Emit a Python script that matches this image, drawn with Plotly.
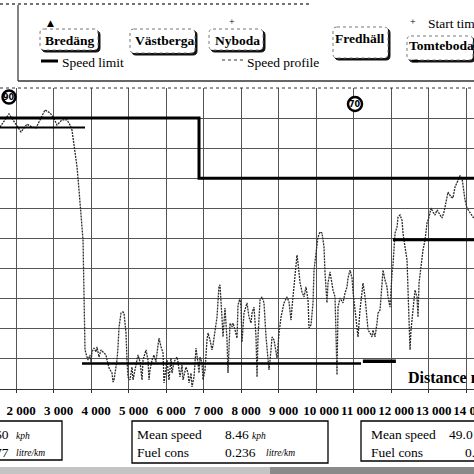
import plotly.graph_objects as go

# ---------------- data ----------------
dist_a = [1573, 1813, 1973, 2133, 2293, 2427, 2533, 2640, 2773, 2907, 2987, 3093, 3227, 3360, 3440,
          3493, 3547, 3627, 3680, 3733, 3787, 3800, 3813, 3827, 3840]
speed_a = [87.0, 91.4, 88.4, 85.4, 88.0, 87.0, 86.7, 89.4, 92.7, 91.7, 90.4, 87.7, 89.4, 89.4, 87.7,
           86.0, 80.4, 73.8, 66.1, 58.5, 49.5, 40.5, 29.6, 20.6, 13.0]

dist_b = [3893, 3920, 3973, 4000, 4027, 4080, 4133, 4160, 4213, 4267,
          4320, 4400, 4427, 4480, 4560, 4587, 4613, 4667, 4693, 4720,
          4747, 4800, 4853, 4880, 4933, 4960, 4987, 5040, 5093, 5120,
          5173, 5227, 5253, 5307, 5360, 5387, 5467, 5520, 5547, 5573,
          5627, 5680, 5733, 5787, 5813, 5867, 5920, 5947, 6000, 6027,
          6080, 6133, 6160, 6213, 6293, 6320, 6373, 6427, 6453, 6533,
          6587, 6613, 6667, 6693, 6747, 6773, 6800, 6853, 6880, 6907,
          6960, 6987]
speed_b = [10.6, 9.6, 11.3, 9.0, 12.3, 13.6, 12.3, 14.0, 10.6, 13.0,
           12.3, 11.3, 9.6, 7.0, 5.3, 2.3, 3.0, 7.0, 9.6, 14.0,
           20.6, 25.2, 25.6, 25.2, 18.6, 9.6, 4.0, 3.0, 7.3, 3.0,
           6.3, 10.3, 11.3, 9.0, 3.0, 9.6, 13.0, 9.6, 3.0, 6.3,
           9.6, 11.3, 9.0, 14.6, 16.9, 14.0, 12.0, 2.0, 6.3, 9.6,
           3.0, 10.3, 5.3, 9.0, 10.6, 9.0, 4.0, 8.0, 3.0, 7.3,
           5.3, 2.0, 5.3, 0.7, 4.0, 8.6, 13.6, 8.6, 5.3, 10.6,
           8.6, 3.0]

dist_c = [7040, 7093, 7120, 7173, 7227, 7253, 7307, 7360, 7413, 7440, 7493,
          7520, 7573, 7627, 7653, 7707, 7760, 7787, 7840, 7893, 7920, 7973]
speed_c = [6.3, 16.3, 18.6, 16.3, 13.0, 14.6, 19.6, 23.9, 34.2, 34.6, 23.6,
           17.3, 26.9, 16.3, 5.3, 21.9, 20.6, 21.9, 19.6, 16.9, 27.9, 30.2]

dist_d = [8000, 8027, 8080, 8160, 8213, 8267, 8293, 8347, 8400, 8427,
          8453, 8507, 8560, 8613, 8667, 8693, 8747, 8800, 8827, 8880,
          8933, 8960, 9013, 9067, 9147, 9227, 9280, 9333, 9360, 9440,
          9493, 9520, 9573, 9627, 9680, 9733, 9787, 9813, 9867, 9920,
          9947, 10000, 10053, 10107, 10160, 10213, 10240, 10293, 10320, 10373]
speed_d = [27.2, 15.6, 25.2, 28.6, 23.9, 21.9, 25.2, 27.2, 17.3, 4.0,
           17.3, 29.6, 30.6, 28.6, 17.3, 14.0, 6.3, 13.0, 17.3, 16.3,
           13.0, 10.3, 18.6, 23.9, 28.6, 30.6, 28.9, 22.9, 27.2, 38.5,
           44.5, 41.9, 35.5, 32.2, 30.6, 33.9, 29.6, 20.3, 21.3, 28.6,
           39.5, 45.2, 50.5, 52.2, 51.8, 47.2, 38.5, 28.6, 35.2, 38.9]

dist_e = [10453, 10507, 10560, 10587, 10640, 10720, 10773, 10827, 10853, 10907,
          10960, 10987, 11040, 11093, 11120, 11173, 11227, 11253, 11307, 11360,
          11387, 11440, 11493, 11520, 11573, 11627, 11653, 11707, 11760, 11787,
          11840, 11893, 11920, 11973, 12027, 12053, 12107, 12160, 12187, 12240,
          12293, 12320, 12373, 12427, 12453, 12480, 12507, 12533, 12587, 12613,
          12640, 12693, 12720, 12747, 12800, 12853, 12907, 12960, 13013, 13067,
          13120, 13173, 13227, 13280, 13360, 13413, 13467, 13520, 13600, 13653,
          13707, 13787, 13840, 13893, 13920, 13973, 14027, 14107, 14187, 14240]
speed_e = [32.9, 30.6, 4.7, 27.2, 30.2, 28.6, 31.9, 33.9, 36.9, 39.5,
           36.9, 32.2, 26.2, 19.6, 17.3, 26.2, 32.9, 35.2, 30.6, 21.9,
           19.6, 18.6, 17.3, 19.6, 17.3, 21.9, 25.2, 26.2, 33.9, 39.5,
           36.2, 33.9, 30.6, 27.2, 38.5, 41.2, 51.8, 53.8, 57.1, 57.8,
           56.1, 51.8, 47.2, 42.9, 32.9, 21.9, 13.0, 19.6, 27.2, 29.6,
           32.9, 30.6, 23.9, 35.2, 41.9, 46.2, 49.5, 55.1, 57.1, 60.1,
           58.8, 57.8, 59.5, 58.5, 56.8, 58.8, 61.8, 65.4, 63.8, 63.5,
           67.1, 69.4, 70.8, 70.1, 67.1, 62.8, 60.1, 58.5, 57.1, 56.8]

limit_dist = [1573, 6880, 6880, 14240]
limit_speed = [90, 90, 70, 70]

mean_start = [1573, 3760, 11250, 12050]
mean_end = [3840, 11200, 12130, 14240]
mean_speed = [86.9, 8.46, 9.2, 49.6]

station_dist = [3920, 6800, 7733, 11867, 13520]
station_names = ["Bredäng", "Västberga", "Nyboda", "Fredhäll", "Tomteboda"]

tick_vals = [2000, 3000, 4000, 5000, 6000, 7000, 8000, 9000, 10000, 11000, 12000, 13000, 14000]
tick_text = ["2 000", "3 000", "4 000", "5 000", "6 000", "7 000", "8 000", "9 000",
             "10 000", "11 000", "12 000", "13 000", "14 000"]

profile_dist = dist_a + dist_b + dist_c + dist_d + dist_e
profile_speed = speed_a + speed_b + speed_c + speed_d + speed_e

# ---------------- layout helpers ----------------
W, H = 474, 474
TOP, BOT = 88, 389
SERIF = "Liberation Serif"


def PX(px):
    return px / W


def PY(py):
    return (BOT - py) / (BOT - TOP)


fig = go.Figure()

# speed profile
fig.add_trace(go.Scatter(x=profile_dist, y=profile_speed, mode="lines",
                         line=dict(color="#2a2a2a", width=1.3, dash="2px,1px"),
                         hoverinfo="skip"))
# speed limit
fig.add_trace(go.Scatter(x=limit_dist, y=limit_speed, mode="lines",
                         line=dict(color="black", width=3), hoverinfo="skip"))
# mean speed segments
mean_widths = [2, 2.5, 3.5, 3]
for s, e, v, w in zip(mean_start, mean_end, mean_speed, mean_widths):
    fig.add_trace(go.Scatter(x=[s, e], y=[v, v], mode="lines",
                             line=dict(color="black", width=w), hoverinfo="skip"))
# station markers at the top
fig.add_trace(go.Scatter(x=station_dist, y=[100.6] * len(station_dist), mode="markers",
                         marker=dict(symbol="triangle-up", size=7, color="black"),
                         cliponaxis=False, hoverinfo="skip"))

shapes = []
annotations = []


def line(x0, y0, x1, y1, color="black", width=1, dash="solid"):
    shapes.append(dict(type="line", xref="paper", yref="paper",
                       x0=PX(x0), y0=PY(y0), x1=PX(x1), y1=PY(y1),
                       line=dict(color=color, width=width, dash=dash)))


def rbox_path(x0, y0, x1, y1, r=4):
    def p(x, y):
        return f"{PX(x):.5f},{PY(y):.5f}"
    return (f"M {p(x0 + r, y0)} L {p(x1 - r, y0)} Q {p(x1, y0)} {p(x1, y0 + r)} "
            f"L {p(x1, y1 - r)} Q {p(x1, y1)} {p(x1 - r, y1)} L {p(x0 + r, y1)} "
            f"Q {p(x0, y1)} {p(x0, y1 - r)} L {p(x0, y0 + r)} Q {p(x0, y0)} {p(x0 + r, y0)} Z")


def text(x, y, s, size=13, bold=False, italic=False, xanchor="left", family=SERIF, color="black"):
    annotations.append(dict(xref="paper", yref="paper", x=PX(x), y=PY(y), text=s,
                            showarrow=False, xanchor=xanchor, yanchor="middle",
                            font=dict(family=family, size=size, color=color,
                                      weight="bold" if bold else "normal",
                                      style="italic" if italic else "normal")))


# top dotted border of plot
line(0, TOP, W, TOP, color="#333", width=1, dash="dot")
# legend frame
line(0, 4, 310, 4, color="#444", width=1.5, dash="dot")
line(18, 5, 18, 81, color="#333", width=1.2)
line(18, 81, W, 81, color="#333", width=1.5)

# station boxes in legend
boxes = [(40, 29, 98, 50, 70, 41), (130, 29, 195, 53, 164, 41), (209, 29, 263, 50, 237, 41),
         (333, 27, 388, 58, 360, 39), (407, 36, 473, 60, 441, 45)]
for name, (bx0, by0, bx1, by1, tx, ty) in zip(station_names, boxes):
    shapes.append(dict(type="path", xref="paper", yref="paper",
                       path=rbox_path(bx0 + 2, by0 + 2, bx1 + 2, by1 + 2),
                       fillcolor="#111", line=dict(color="#111", width=1)))
    shapes.append(dict(type="path", xref="paper", yref="paper",
                       path=rbox_path(bx0, by0, bx1, by1),
                       fillcolor="white", line=dict(color="#777", width=1, dash="dot")))
    text(tx, ty, name, size=13.5, bold=True, xanchor="center")

text(50, 23, "▲", size=9, xanchor="center", family="DejaVu Sans")
text(232, 22, "+", size=10, xanchor="center")
text(413, 22, "+", size=10, xanchor="center")
text(426, 24, "Start time", size=13.5)
line(412, 61, 418, 61, width=2.5)

line(41, 61, 58, 61, width=3)
text(60, 62, "Speed limit", size=13.5)
line(222, 60, 243, 60, color="#333", width=1, dash="dot")
text(245, 62, "Speed profile", size=13.5)

# speed sign circles
for cx, cy, r, lab in [(9, 97, 6.5, "90"), (355, 104, 7, "70")]:
    shapes.append(dict(type="circle", xref="paper", yref="paper",
                       x0=PX(cx - r), x1=PX(cx + r), y0=PY(cy + r), y1=PY(cy - r),
                       fillcolor="white", line=dict(color="black", width=2.5)))
    text(cx, cy, lab, size=8, bold=True, xanchor="center", family="DejaVu Sans")

# distance label
text(406, 377, "Distance m", size=16, bold=True)

# bottom summary boxes
for bx0, by0, bx1, by1 in [(-5, 421, 62, 460), (132, 421, 328, 463), (361, 421, 480, 461)]:
    shapes.append(dict(type="rect", xref="paper", yref="paper",
                       x0=PX(bx0), x1=PX(bx1), y0=PY(by1), y1=PY(by0),
                       fillcolor="white", line=dict(color="black", width=1.3)))

text(11, 435, "60", size=13.5, xanchor="right")
text(14, 436, "kph", size=9.5, italic=True)
text(11, 452, "77", size=13.5, xanchor="right")
text(14, 453, "litre/km", size=9.5, italic=True)

text(135, 435, "Mean speed", size=13.5)
text(223, 435, "8.46", size=13.5)
text(250, 436, "kph", size=9.5, italic=True)
text(135, 452, "Fuel cons", size=13.5)
text(223, 452, "0.236", size=13.5)
text(264, 453, "litre/km", size=9.5, italic=True)

text(369, 435, "Mean speed", size=13.5)
text(447, 435, "49.0", size=13.5)
text(369, 452, "Fuel cons", size=13.5)
text(463, 452, "0.0", size=13.5)

# scanned-page edge at the bottom
shapes.append(dict(type="rect", xref="paper", yref="paper", x0=PX(0), x1=PX(W),
                   y0=PY(474), y1=PY(467), fillcolor="#c4c4c4", line=dict(width=0), layer="below"))
shapes.append(dict(type="rect", xref="paper", yref="paper", x0=PX(270), x1=PX(W),
                   y0=PY(474), y1=PY(467), fillcolor="#8a8a8a", line=dict(width=0), layer="below"))

fig.update_layout(
    width=W, height=H,
    margin=dict(l=0, r=0, t=TOP, b=H - BOT, pad=0),
    paper_bgcolor="white", plot_bgcolor="white",
    showlegend=False,
    shapes=shapes, annotations=annotations,
    xaxis=dict(range=[1573, 14213], tickvals=tick_vals, ticktext=tick_text, tickangle=0,
               ticklabeloverflow="allow",
               showgrid=True, gridcolor="#555", gridwidth=1.2, zeroline=False,
               showline=True, linecolor="#333", linewidth=1,
               ticks="outside", ticklen=3, tickcolor="#333",
               tickfont=dict(family=SERIF, size=13, color="black", weight="bold"),
               ticklabelshift=5, ticklabelstandoff=6, automargin=False),
    yaxis=dict(range=[0, 100], dtick=10, showgrid=True, gridcolor="#555", gridwidth=1.2,
               zeroline=False, showticklabels=False, ticks="", automargin=False),
)

fig.write_html("out.html")
